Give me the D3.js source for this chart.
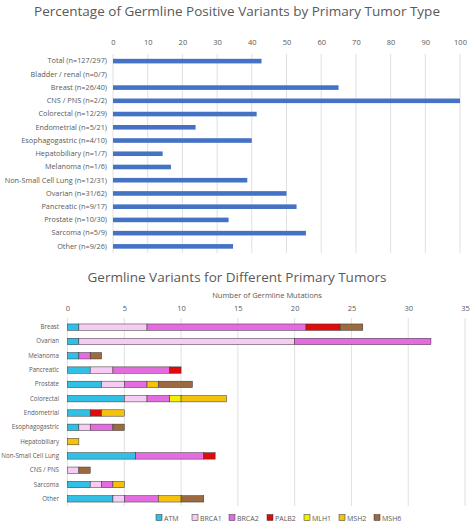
<!DOCTYPE html><html><head><meta charset="utf-8">
<script src="https://cdn.jsdelivr.net/npm/d3@7"></script>
<style>body{margin:0;background:#fff}text{font-family:"Open Sans",Calibri,sans-serif}</style></head><body>
<svg id="c" width="474" height="527"></svg>
<script>
const topCats=["Total (n=127/297)","Bladder / renal (n=0/7)","Breast (n=26/40)","CNS / PNS (n=2/2)","Colorectal (n=12/29)","Endometrial (n=5/21)","Esophagogastric (n=4/10)","Hepatobiliary (n=1/7)","Melanoma (n=1/6)","Non-Small Cell Lung (n=12/31)","Ovarian (n=31/62)","Pancreatic (n=9/17)","Prostate (n=10/30)","Sarcoma (n=5/9)","Other (n=9/26)"];
const topVals=[42.8,0,65,100,41.4,23.8,40,14.3,16.7,38.7,50,52.9,33.3,55.6,34.6];
const topTicks=[0,10,20,30,40,50,60,70,80,90,100];
const genes=["ATM","BRCA1","BRCA2","PALB2","MLH1","MSH2","MSH6"];
const geneColors=["#31bfe6","#f6cdf2","#e56ce0","#e00b0b","#f2f000","#f4c20d","#9b6a3e"];
const botCats=["Breast","Ovarian","Melanoma","Pancreatic","Prostate","Colorectal","Endometrial","Esophagogastric","Hepatobiliary","Non-Small Cell Lung","CNS / PNS","Sarcoma","Other"];
const ATM  =[1,1,1,2,3,5,2,1,0,6,0,2,4];
const BRCA1=[6,19,0,2,2,2,0,1,0,0,1,1,1];
const BRCA2=[14,12,1,5,2,2,0,2,0,6,0,1,3];
const PALB2=[3,0,0,1,0,0,1,0,0,1,0,0,0];
const MLH1 =[0,0,0,0,0,1,0,0,0,0,0,0,0];
const MSH2 =[0,0,0,0,1,4,2,0,1,0,0,1,2];
const MSH6 =[2,0,1,0,3,0,0,1,0,0,1,0,2];
const botTicks=[0,5,10,15,20,25,30,35];
const svg=d3.select("#c");
svg.append("text").attr("x",237).attr("y",16).attr("text-anchor","middle").attr("font-size",13.5).attr("fill","#595959").text("Percentage of Germline Positive Variants by Primary Tumor Type");
const x1=d3.scaleLinear().domain([0,100]).range([113,460]);
const y1=d3.scaleBand().domain(topCats).range([54.5,253]);
const g1=svg.append("g");
g1.selectAll(".gl").data(topTicks).join("line").attr("x1",d=>x1(d)).attr("x2",d=>x1(d)).attr("y1",54).attr("y2",253).attr("stroke","#e0e0e0");
g1.append("g").attr("transform","translate(0,48)").call(d3.axisTop(x1).tickValues(topTicks).tickSize(0)).call(a=>{a.select(".domain").remove();a.selectAll("text").attr("font-size",7.5).attr("fill","#595959")});
g1.selectAll(".b").data(topVals).join("rect").attr("x",x1(0)).attr("y",(d,i)=>y1(topCats[i])+y1.bandwidth()/2-2.3).attr("width",d=>x1(d)-x1(0)).attr("height",4.6).attr("fill","#4472c4");
g1.append("g").attr("transform","translate(110,0)").call(d3.axisLeft(y1).tickSize(0)).call(a=>{a.select(".domain").remove();a.selectAll("text").attr("font-size",7.3).attr("fill","#595959")});
svg.append("text").attr("x",237).attr("y",282).attr("text-anchor","middle").attr("font-size",13.5).attr("fill","#595959").text("Germline Variants for Different Primary Tumors");
svg.append("text").attr("x",267).attr("y",298).attr("text-anchor","middle").attr("font-size",7.5).attr("fill","#595959").text("Number of Germline Mutations");
const x2=d3.scaleLinear().domain([0,35]).range([67.5,465]);
const y2=d3.scaleBand().domain(botCats).range([320,506]);
const g2=svg.append("g");
g2.selectAll(".gl").data(botTicks).join("line").attr("x1",d=>x2(d)).attr("x2",d=>x2(d)).attr("y1",318).attr("y2",506).attr("stroke","#e0e0e0");
g2.append("g").attr("transform","translate(0,314)").call(d3.axisTop(x2).tickValues(botTicks).tickSize(0)).call(a=>{a.select(".domain").remove();a.selectAll("text").attr("font-size",7.5).attr("fill","#595959")});
const table=botCats.map((c,i)=>({cat:c,ATM:ATM[i],BRCA1:BRCA1[i],BRCA2:BRCA2[i],PALB2:PALB2[i],MLH1:MLH1[i],MSH2:MSH2[i],MSH6:MSH6[i]}));
const stack=d3.stack().keys(genes)(table);
stack.forEach((s,k)=>{
 g2.selectAll(".s"+k).data(s.filter(d=>d[1]>d[0])).join("rect").attr("x",d=>x2(d[0])).attr("width",d=>x2(d[1])-x2(d[0]))
 .attr("y",d=>y2(d.data.cat)+y2.bandwidth()/2-3.2).attr("height",6.4).attr("fill",geneColors[k]).attr("stroke","#333").attr("stroke-width",0.5);
});
g2.append("g").attr("transform","translate(62,0)").call(d3.axisLeft(y2).tickSize(0)).call(a=>{a.select(".domain").remove();a.selectAll("text").attr("font-size",6.2).attr("fill","#595959")});
const lg=svg.append("g").attr("transform","translate(156,518)");
const lw=[36,37,38,37,35,35,0];
let lx=0;
genes.forEach((gname,i)=>{
 lg.append("rect").attr("x",lx).attr("y",-3.5).attr("width",6).attr("height",6).attr("fill",geneColors[i]).attr("stroke","#333").attr("stroke-width",0.5);
 lg.append("text").attr("x",lx+8).attr("y",2.5).attr("font-size",7).attr("fill","#595959").text(gname);
 lx+=lw[i];
});
</script></body></html>
